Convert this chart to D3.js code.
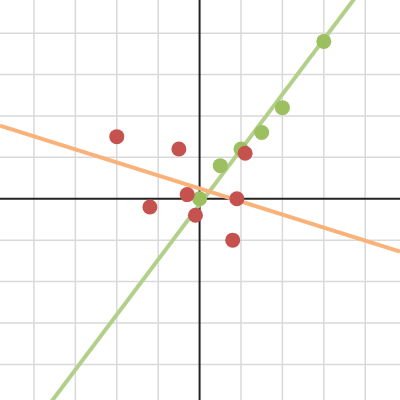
<!DOCTYPE html>
<html>
<head>
<meta charset="utf-8">
<script src="https://cdn.jsdelivr.net/npm/d3@7"></script>
<style>
  html, body { margin: 0; padding: 0; background: #fff; }
  svg { display: block; }
</style>
</head>
<body>
<svg id="chart"></svg>
<script>
const greenPoints = [[0, 0], [0.5, 0.8], [1, 1.2], [1.5, 1.6], [2, 2.2], [3, 3.8]];
const redPoints = [[-2, 1.5], [-0.5, 1.2], [1.1, 1.1], [-0.3, 0.1], [-1.2, -0.2], [-0.1, -0.4], [0.9, 0], [0.8, -1]];
// lines as [slope, intercept]
const greenLine = [1.33, -0.14];
const orangeLine = [-0.315, 0.25];
const gridTicks = [-4, -3, -2, -1, 1, 2, 3, 4];

{
    const width = 400, height = 400;

    const x = d3.scaleLinear().domain([-4.82, 4.84]).range([0, width]);
    const y = d3.scaleLinear().domain([-4.86, 4.80]).range([height, 0]);

    const svg = d3.select("#chart")
        .attr("width", width)
        .attr("height", height);

    // grid
    svg.append("g")
        .selectAll("line")
        .data(gridTicks)
        .enter().append("line")
            .attr("x1", d => x(d)).attr("x2", d => x(d))
            .attr("y1", 0).attr("y2", height)
            .attr("stroke", "#d9d9d9").attr("stroke-width", 1.5);

    svg.append("g")
        .selectAll("line")
        .data(gridTicks)
        .enter().append("line")
            .attr("y1", d => y(d)).attr("y2", d => y(d))
            .attr("x1", 0).attr("x2", width)
            .attr("stroke", "#d9d9d9").attr("stroke-width", 1.5);

    // axes
    svg.append("line")
        .attr("x1", x(0)).attr("x2", x(0))
        .attr("y1", 0).attr("y2", height)
        .attr("stroke", "#222").attr("stroke-width", 2);
    svg.append("line")
        .attr("y1", y(0)).attr("y2", y(0))
        .attr("x1", 0).attr("x2", width)
        .attr("stroke", "#222").attr("stroke-width", 2);

    // lines
    const xs = x.domain();
    const fitLine = d3.line().x(d => x(d[0])).y(d => y(d[1]));
    const drawLine = (l, color) => svg.append("path")
        .attr("d", fitLine(xs.map(v => [v, l[0] * v + l[1]])))
        .attr("fill", "none")
        .attr("stroke", color)
        .attr("stroke-width", 4);

    drawLine(greenLine, "#b3d08b");
    drawLine(orangeLine, "#f9b27a");

    // points
    svg.append("g")
        .selectAll("circle")
        .data(greenPoints)
        .enter().append("circle")
            .attr("cx", d => x(d[0]))
            .attr("cy", d => y(d[1]))
            .attr("r", 7.5)
            .attr("fill", "#9cbf5f");

    svg.append("g")
        .selectAll("circle")
        .data(redPoints)
        .enter().append("circle")
            .attr("cx", d => x(d[0]))
            .attr("cy", d => y(d[1]))
            .attr("r", 7.5)
            .attr("fill", "#c5524e");
}
</script>
</body>
</html>
